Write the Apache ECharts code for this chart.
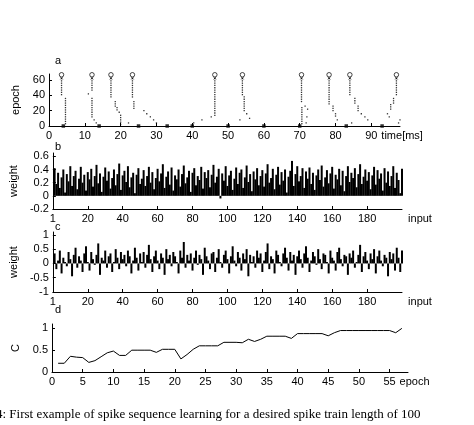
<!DOCTYPE html><html><head><meta charset="utf-8">
<script src="https://cdn.jsdelivr.net/npm/echarts@6/dist/echarts.min.js"></script>
<style>body{margin:0;background:#fff}#c{width:474px;height:425px}</style></head><body><div id="c"></div>
<script>
// Panel a: desired spike times (o at top, x just below), initial spikes at epoch 0, and spike trails [time, epochFrom, epochTo]
const desiredTimes=[3.5,12,17.3,23.3,46.3,54,70.5,78.2,84,97];
const initialTimes=[4,14,25,33,40,50,60,70,83,93];
const trails=[[3.5,40,62],[4.6,2,36],[12,45,62],[11,42,42],[12,12,36],[12.6,8,8],[13.2,4,4],
[17.3,36,62],[18.5,26,32],[19,20,24],[19.6,16,18],[20,2,14],
[23.3,36,62],[23.7,22,32],[22.2,4,4],[26.5,20,20],[27.3,16,16],[28.3,12,12],[29.2,8,8],[30,4,4],
[46.3,14,62],[45.3,12,12],[42.7,8,8],[40.4,4,4],
[54,40,62],[54.5,18,38],[55.2,14,16],[56,10,10],[53.3,8,8],
[70.5,30,62],[70.6,2,24],[71.5,26,26],[72.2,22,22],[72,12,12],[71.8,4,4],
[78.2,28,62],[79.3,18,26],[80,12,16],[80.5,8,8],
[84,40,62],[85.4,28,36],[86.3,20,26],[87.2,16,16],[88.2,12,12],[89,8,8],[84.5,4,4],
[97,40,62],[96.2,30,36],[95.4,22,28],[94.5,16,16],[95,12,12],[97.6,4,4],[98,8,8]];
// Panel b weights (inputs 1..200)
const weightsB=[0.42,0.18,0.35,0.12,0.28,0.40,0.05,0.33,0.22,0.45,0.15,0.30,0.38,0.10,0.26,0.44,0.20,0.32,0.08,0.36,
0.25,0.41,0.14,0.30,0.47,0.19,0.34,0.06,0.29,0.43,0.23,0.37,0.11,0.27,0.40,0.16,0.33,0.49,0.09,0.31,
0.38,0.21,0.45,0.13,0.28,0.35,0.04,0.32,0.42,0.18,0.26,0.39,0.15,0.30,0.44,0.20,0.36,0.10,0.27,0.41,
0.22,0.34,0.48,0.12,0.29,0.37,0.17,0.43,0.08,0.31,0.25,0.40,0.14,0.33,0.46,0.19,0.28,0.38,0.06,0.35,
0.42,0.16,0.30,0.24,0.44,0.11,0.36,0.27,0.39,0.13,0.32,0.47,0.20,0.29,0.41,-0.04,0.34,0.23,0.45,0.15,
0.31,0.38,0.09,0.26,0.43,0.18,0.35,0.40,0.12,0.28,0.46,0.21,0.33,0.07,0.37,0.25,0.42,0.16,0.30,0.39,
0.14,0.34,0.48,0.20,0.27,0.41,0.10,0.32,0.44,0.17,0.36,0.23,0.40,0.05,0.29,0.38,0.53,0.15,0.33,0.45,
0.22,0.30,0.42,0.12,0.37,0.26,0.43,0.18,0.35,0.09,0.31,0.40,0.24,0.46,0.14,0.28,0.39,0.19,0.34,0.44,
0.11,0.32,0.25,0.41,0.16,0.38,0.07,0.30,0.45,0.21,0.35,0.27,0.42,0.13,0.33,0.48,0.18,0.29,0.40,0.23,
0.36,0.10,0.31,0.44,0.17,0.39,0.26,0.34,0.08,0.42,0.20,0.37,0.15,0.30,0.45,0.12,0.35,0.24,0.04,0.41];
// Panel c weights
const weightsC=[0.35,-0.20,0.10,0.45,-0.35,0.20,0.05,-0.10,0.40,0.15,-0.45,0.30,0.55,-0.15,0.25,0.10,-0.30,0.35,0.60,0.05,
-0.25,0.40,0.15,-0.05,0.30,0.70,-0.40,0.20,0.10,0.45,-0.15,0.25,0.35,-0.30,0.05,0.50,0.20,-0.20,0.40,0.15,
0.30,-0.10,0.45,0.25,-0.35,0.10,0.55,0.20,-0.25,0.35,0.05,0.40,-0.15,0.30,0.65,0.15,-0.30,0.25,0.45,0.10,
-0.20,0.35,0.20,-0.40,0.50,0.15,0.30,-0.10,0.40,0.25,0.05,-0.35,0.45,0.20,0.75,-0.15,0.30,0.10,0.35,-0.25,
0.20,0.45,-0.05,0.30,0.15,-0.40,0.55,0.25,0.10,-0.20,0.35,0.40,-0.30,0.20,0.50,0.05,-0.15,0.30,0.45,0.15,
-0.35,0.25,0.60,0.10,-0.10,0.40,0.20,-0.25,0.35,0.15,0.50,-0.45,0.30,0.05,0.25,-0.15,0.45,0.20,0.35,-0.30,
0.10,0.40,0.70,-0.20,0.25,0.15,-0.35,0.45,0.30,0.05,-0.10,0.35,0.55,0.20,-0.25,0.40,0.10,0.30,-0.40,0.25,
0.45,0.15,-0.15,0.35,0.60,0.20,-0.30,0.10,0.40,0.25,-0.05,0.50,0.15,-0.20,0.35,0.30,0.05,-0.35,0.45,0.20,
0.10,-0.25,0.40,0.55,0.15,-0.10,0.30,0.25,-0.40,0.35,0.20,0.45,-0.15,0.05,0.30,0.65,-0.30,0.25,0.40,0.10,
-0.20,0.35,0.15,0.50,-0.35,0.25,0.45,0.10,-0.10,0.30,0.20,-0.45,0.40,0.15,0.35,-0.25,0.55,0.20,-0.30,0.45];
// Panel d: correlation C per epoch (epochs 1..57)
const corrC=[0.2,0.2,0.36,0.34,0.33,0.22,0.26,0.35,0.44,0.48,0.38,0.38,0.5,0.5,0.5,0.5,0.45,0.52,0.52,0.52,
0.3,0.4,0.52,0.6,0.6,0.6,0.6,0.68,0.68,0.68,0.67,0.75,0.7,0.75,0.82,0.82,0.82,0.82,0.77,0.88,
0.88,0.88,0.88,0.88,0.83,0.9,0.95,0.95,0.95,0.95,0.95,0.95,0.95,0.95,0.95,0.9,1.0];
const caption='4: First example of spike sequence learning for a desired spike train length of 100';

const F='Liberation Sans';
const dots=[];trails.forEach(([t,a,b])=>{for(let e=b;e>=a;e-=3)dots.push([t,e]);});
const idx=(a)=>a.map((v,i)=>[i+1,v]);
const ax={axisLine:{show:true,onZero:false,lineStyle:{color:'#000',width:1}},axisTick:{show:true,inside:true,length:3,lineStyle:{color:'#000'}},
 axisLabel:{color:'#000',fontFamily:F,fontSize:11,margin:4},splitLine:{show:false}};
const xa=(g,min,max,iv,name,gap,fmt)=>Object.assign({},ax,{gridIndex:g,type:'value',min,max,interval:iv,name,nameLocation:'end',nameGap:gap,
 nameTextStyle:{color:'#000',fontFamily:F,fontSize:11,verticalAlign:'top',align:'center',padding:[4,0,0,0]},
 axisLabel:Object.assign({},ax.axisLabel,{showMaxLabel:false,formatter:fmt||(v=>v)})});
const ya=(g,min,max,iv,name)=>Object.assign({},ax,{gridIndex:g,type:'value',min,max,interval:iv,name,nameLocation:'middle',nameGap:24,
 nameTextStyle:{color:'#000',fontFamily:F,fontSize:11}});
const x='path://M0,0L10,10M10,0L0,10';
const opt={animation:false,
 grid:[{left:49,right:74,top:74,bottom:299},{left:49,right:72,top:153,bottom:216},{left:49,right:72,top:232,bottom:133},{left:52,right:66,top:324,bottom:53}],
 xAxis:[xa(0,0,98,10,'time[ms]',2),xa(1,0,200,20,'input',18,v=>v===0?'1':v),xa(2,0,200,20,'input',18,v=>v===0?'1':v),xa(3,0,58,5,'epoch',-4)],
 yAxis:[ya(0,0,68,20,'epoch'),ya(1,-0.2,0.65,0.2,'weight'),ya(2,-1,1.1,0.5,'weight'),ya(3,0,1.1,0.5,'C')],
 graphic:[['a',62],['b',148],['c',228],['d',311]].map(([t,y])=>({type:'text',left:55,top:y-7,style:{text:t,font:'11px '+F,fill:'#000'}}))
  .concat([{type:'text',left:-4,top:408,style:{text:caption,font:'13px "Liberation Serif"',fill:'#000'}}]),
 series:[
  {type:'scatter',xAxisIndex:0,yAxisIndex:0,data:dots,symbol:'rect',symbolSize:[1.3,1.3],itemStyle:{color:'#000'}},
  {type:'scatter',xAxisIndex:0,yAxisIndex:0,data:desiredTimes.map(t=>[t,62.5]),symbol:x,symbolSize:2.5,itemStyle:{color:'none',borderColor:'#000',borderWidth:0.8}},
  {type:'scatter',xAxisIndex:0,yAxisIndex:0,data:desiredTimes.map(t=>[t,67]),symbol:'circle',symbolSize:4.5,clip:false,z:5,itemStyle:{color:'#fff',borderColor:'#000',borderWidth:0.9}},
  {type:'scatter',xAxisIndex:0,yAxisIndex:0,data:initialTimes.map(t=>[t,0]),symbol:'rect',symbolSize:3.5,itemStyle:{color:'#000'}},
  {type:'bar',xAxisIndex:1,yAxisIndex:1,data:idx(weightsB),barWidth:2,itemStyle:{color:'#000'}},
  {type:'bar',xAxisIndex:2,yAxisIndex:2,data:idx(weightsC),barWidth:2,itemStyle:{color:'#000'}},
  {type:'line',xAxisIndex:3,yAxisIndex:3,data:idx(corrC),showSymbol:false,lineStyle:{color:'#000',width:1}}
 ]};
echarts.init(document.getElementById('c')).setOption(opt);
</script></body></html>
